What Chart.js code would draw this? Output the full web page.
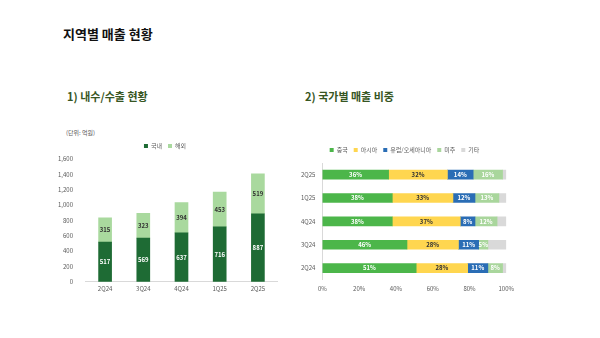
<!DOCTYPE html>
<html>
<head>
<meta charset="utf-8">
<script src="https://cdn.jsdelivr.net/npm/chart.js@4.4.0/dist/chart.umd.min.js"></script>
<style>
  body { margin: 0; background: #fff; width: 600px; height: 338px; position: relative; overflow: hidden;
         font-family: "Noto Sans CJK KR", "Noto Sans", sans-serif; }
  .title { position: absolute; left: 63px; top: 24px; font-size: 13px; font-weight: bold; color: #111; }
  .sub { position: absolute; top: 88px; font-size: 11px; font-weight: bold; color: #375623; }
  .unit { position: absolute; left: 66px; top: 128px; font-size: 6px; color: #595959; }
  .box { position: absolute; }
</style>
</head>
<body>
<div class="title">지역별 매출 현황</div>
<div class="sub" style="left:67px">1) 내수/수출 현황</div>
<div class="sub" style="left:305px">2) 국가별 매출 비중</div>
<div class="unit">(단위: 억원)</div>
<div class="box" style="left:53px;top:137px;width:228px;height:158px"><canvas id="sales-chart"></canvas></div>
<div class="box" style="left:294px;top:141px;width:225px;height:156px"><canvas id="country-chart"></canvas></div>
<script>
// --- Data ---
const quarters = ['2Q24', '3Q24', '4Q24', '1Q25', '2Q25'];
const domestic = [517, 569, 637, 716, 887];
const overseas = [315, 323, 394, 453, 519];

const shareQuarters = ['2Q25', '1Q25', '4Q24', '3Q24', '2Q24'];
const china = [36, 38, 38, 46, 51];
const asia = [32, 33, 37, 28, 28];
const europe = [14, 12, 8, 11, 11];
const america = [16, 13, 12, 5, 8];
const others = [2, 4, 5, 10, 2];

const FONT = '"Noto Sans CJK KR", "Noto Sans", sans-serif';
Chart.defaults.font.family = FONT;
Chart.defaults.color = '#595959';

// draw value labels in the middle of each bar segment
const barLabels = {
    id: 'barLabels',
    afterDatasetsDraw(chart, args, opts) {
        const ctx = chart.ctx;
        ctx.save();
        ctx.font = 'bold 6px ' + FONT;
        ctx.textAlign = 'center';
        ctx.textBaseline = 'middle';
        chart.data.datasets.forEach((ds, i) => {
            if (ds.noLabel) return;
            const meta = chart.getDatasetMeta(i);
            meta.data.forEach((bar, j) => {
                const p = bar.getCenterPoint();
                ctx.fillStyle = ds.labelColor || '#fff';
                ctx.fillText(ds.data[j] + (opts.suffix || ''), p.x, p.y);
            });
        });
        ctx.restore();
    }
};

function legendOpts() {
    return {
        display: true,
        labels: { boxWidth: 4, boxHeight: 4, padding: 6, font: { size: 6 }, color: '#595959' }
    };
}

new Chart(document.getElementById('sales-chart'), {
    type: 'bar',
    data: {
        labels: quarters,
        datasets: [
            { label: '국내', data: domestic, backgroundColor: '#1e6b34', barThickness: 13, labelColor: '#fff' },
            { label: '해외', data: overseas, backgroundColor: '#a9d99e', barThickness: 13, labelColor: '#333' }
        ]
    },
    options: {
        responsive: true, maintainAspectRatio: false, animation: false,
        layout: { padding: { left: 0, right: 4, top: 0, bottom: 0 } },
        plugins: { legend: legendOpts(), tooltip: { enabled: false }, barLabels: {} },
        scales: {
            x: { stacked: true, grid: { display: false, drawTicks: false }, border: { color: '#d9d9d9' },
                 ticks: { font: { size: 6 }, padding: 3 } },
            y: { stacked: true, min: 0, max: 1600, grid: { display: false }, border: { display: false },
                 ticks: { stepSize: 200, font: { size: 6 }, padding: 5,
                          callback: v => v.toLocaleString('en-US') } }
        }
    },
    plugins: [barLabels]
});

new Chart(document.getElementById('country-chart'), {
    type: 'bar',
    data: {
        labels: shareQuarters,
        datasets: [
            { label: '중국', data: china, backgroundColor: '#4cb64a', barThickness: 9 },
            { label: '아시아', data: asia, backgroundColor: '#ffd64f', barThickness: 9, labelColor: '#333' },
            { label: '유럽/오세아니아', data: europe, backgroundColor: '#2a6db5', barThickness: 9 },
            { label: '미주', data: america, backgroundColor: '#a9d69c', barThickness: 9 },
            { label: '기타', data: others, backgroundColor: '#d9d9d9', barThickness: 9, noLabel: true }
        ]
    },
    options: {
        indexAxis: 'y',
        responsive: true, maintainAspectRatio: false, animation: false,
        layout: { padding: { left: 0, right: 4, top: 0, bottom: 0 } },
        plugins: { legend: legendOpts(), tooltip: { enabled: false }, barLabels: { suffix: '%' } },
        scales: {
            x: { stacked: true, min: 0, max: 100, grid: { display: false, drawTicks: false }, border: { display: false },
                 ticks: { stepSize: 20, font: { size: 6 }, padding: 5, callback: v => v + '%' } },
            y: { stacked: true, grid: { display: false, drawTicks: false }, border: { color: '#d9d9d9' },
                 ticks: { font: { size: 6 }, padding: 7 } }
        }
    },
    plugins: [barLabels]
});
</script>
</body>
</html>
